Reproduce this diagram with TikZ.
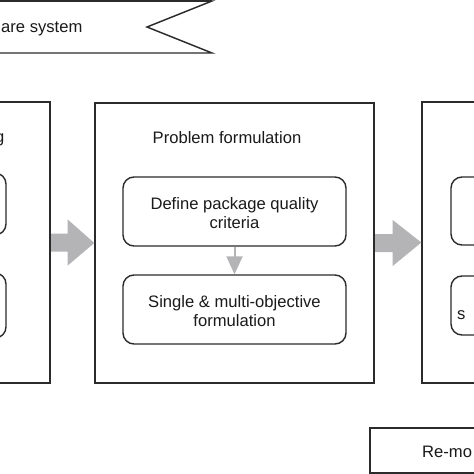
\documentclass[tikz,border=0pt]{standalone}
\usepackage{fontspec}
\setmainfont{Liberation Sans}
\usetikzlibrary{arrows.meta,calc}
\definecolor{ln}{HTML}{2B2B2B}
\definecolor{arrgray}{HTML}{B4B4B6}
\definecolor{tx}{HTML}{1A1A1A}
\begin{document}
\begin{tikzpicture}[x=1pt,y=-1pt,
  every node/.style={font=\fontsize{16.6pt}{19pt}\selectfont, text=tx},
  outerbox/.style={draw=ln, line width=1.4pt, rectangle, inner sep=0pt},
  innerbox/.style={draw=ln, line width=1.4pt, rectangle, rounded corners=11pt, inner sep=0pt, align=center},
  plain/.style={inner sep=0pt},
  bigarrow/.style={fill=arrgray},
  smallarrow/.style={draw=arrgray, line width=2pt, -{Triangle[length=18pt,width=16pt]}}]
\useasboundingbox (0,0) rectangle (474,474);
\clip (0,0) rectangle (474,474);
\fill[white] (0,0) rectangle (474,474);

% top banner
\draw[ln, line width=1.4pt] (-20,53) -- (212,53) -- (147,27) -- (212,1) -- (-20,1);
\draw[ln, line width=2.4pt] (-20,0.8) -- (212,0.8);
\node[plain, anchor=base west] (ban) at (1,32) {are system};

% left box
\node[outerbox, minimum width=150pt, minimum height=281pt] (L) at (-25,242.5) {};
\node[plain, anchor=base east] (lt) at (4.5,142) {g};
\node[innerbox, minimum width=206pt, minimum height=62pt] (l1) at (-97,204) {};
\node[innerbox, minimum width=206pt, minimum height=65pt] (l2) at (-97,305.5) {};

% middle box
\node[outerbox, minimum width=279pt, minimum height=280pt] (M) at (234.5,243) {};
\node[plain, anchor=base] (mt) at (227,143) {Problem formulation};
\node[innerbox, minimum width=223pt, minimum height=69pt] (m1) at (234.5,211.5) {\rule{0pt}{16pt}Define package quality\\criteria};
\node[innerbox, minimum width=223pt, minimum height=69pt] (m2) at (234.5,309.5) {\rule{0pt}{16pt}Single \& multi-objective\\formulation};
\draw[smallarrow] (m1.south) -- (m2.north);

% right box
\node[outerbox, minimum width=178pt, minimum height=281pt] (R) at (511,242.5) {};
\node[innerbox, minimum width=200pt, minimum height=68pt] (r1) at (551,211) {};
\node[innerbox, minimum width=200pt, minimum height=59pt] (r2) at (551,305.5) {};
\node[plain, anchor=base west] (rs) at (457,319) {s};

% block arrows
\fill[bigarrow] ($(L.east)+(0,-9)$) -- ++(17,0) -- ++(0,-14) -- (M.west) -- ($(L.east)+(17,23)$) -- ++(0,-14) -- ($(L.east)+(0,9)$) -- cycle;
\fill[bigarrow] ($(M.east)+(0,-9)$) -- ++(18,0) -- ++(0,-14) -- (R.west) -- ($(M.east)+(18,23)$) -- ++(0,-14) -- ($(M.east)+(0,9)$) -- cycle;
\draw[ln, line width=1.4pt] (L.north east) -- (L.south east);
\draw[ln, line width=1.4pt] (M.north east) -- (M.south east);

% bottom box
\node[outerbox, minimum width=250pt, minimum height=45pt] (B) at (495,450.5) {};
\draw[ln, line width=2.4pt] (B.south west) -- (B.south east);
\node[plain, anchor=base west] (bt) at (422,457) {Re-mo};
\end{tikzpicture}
\end{document}
